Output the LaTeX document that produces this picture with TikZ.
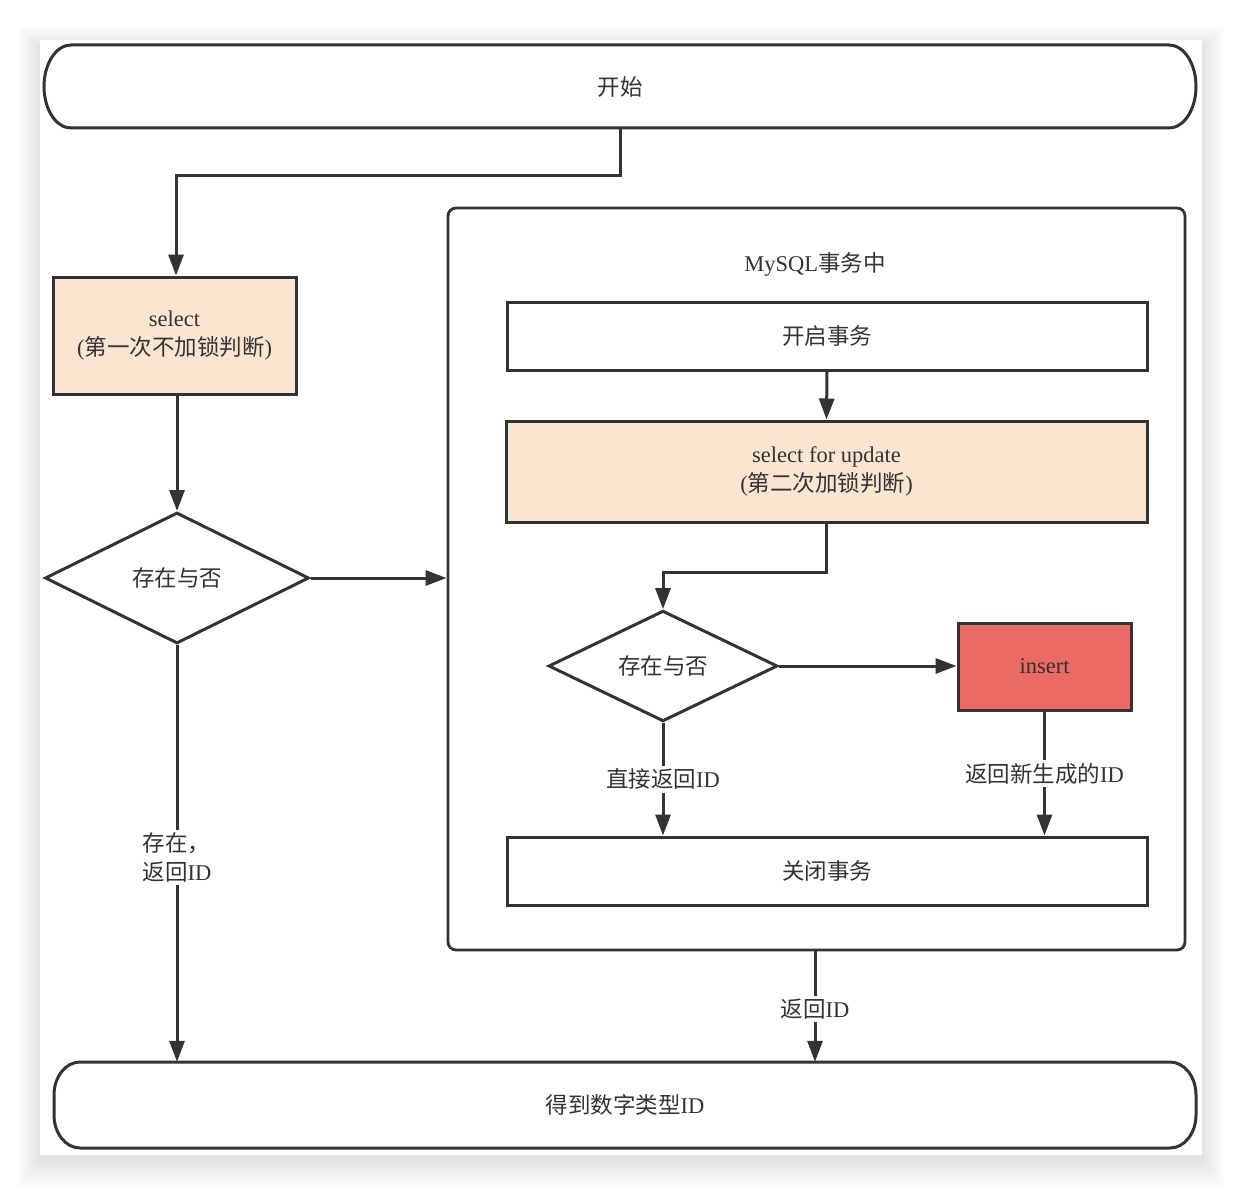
\documentclass[tikz,border=0pt]{standalone}
\usepackage{fontspec}
\setmainfont{Liberation Serif}
\newfontfamily\cjk{Noto Sans CJK SC}
\usetikzlibrary{arrows.meta,shapes.geometric,calc}
\definecolor{ink}{HTML}{333333}
\definecolor{peach}{HTML}{FAE5D0}
\definecolor{insertred}{HTML}{EA6B66}
\newcommand\C[1]{{\cjk #1}}
\begin{document}
\begin{tikzpicture}[x=1pt,y=-1pt,
  every node/.style={font=\fontsize{22.5}{28.5}\selectfont, text=ink},
  box/.style={draw=ink, line width=3pt, rectangle, inner sep=0pt, align=center},
  pill/.style={rectangle, inner sep=0pt},
  dec/.style={draw=ink, line width=3pt, diamond, inner sep=0pt},
  conn/.style={draw=ink, line width=3pt, -{Triangle[length=21pt,width=15pt]}},
  line/.style={draw=ink, line width=3pt},
  lbl/.style={fill=white, inner sep=3pt, align=left}]
\useasboundingbox (0,0) rectangle (1242,1196);
\fill[white] (0,0) rectangle (1242,1196);
% panel shadow
\foreach \i in {1,...,28}{
  \fill[black,opacity=0.0035] ({40-\i*0.8},{48-\i*0.8}) rectangle ({1202+\i*0.8},{1160+\i});
}
\fill[white] (40,40) rectangle (1202,1155);

% start terminal
\node[pill, minimum width=1152pt, minimum height=83pt] (start) at (620,86.5) {\C{开始}};
\draw[line] (71,45) -- (1169,45) arc[start angle=-90,end angle=90,x radius=27,y radius=41.5]
  -- (71,128) arc[start angle=90,end angle=270,x radius=27,y radius=41.5] -- cycle;

% end terminal
\node[pill, minimum width=1142pt, minimum height=86pt] (end) at (625,1105) {\C{得到数字类型}ID};
\draw[line] (80,1062) -- (1170,1062) arc[start angle=-90,end angle=0,x radius=26,y radius=33]
  -- (1196,1115) arc[start angle=0,end angle=90,x radius=26,y radius=33]
  -- (80,1148) arc[start angle=90,end angle=180,x radius=26,y radius=33]
  -- (54,1095) arc[start angle=180,end angle=270,x radius=26,y radius=33] -- cycle;

% left column
\node[box, fill=peach, minimum width=243pt, minimum height=117pt] (sel) at (174.5,335.5)
  {select\\(\C{第一次不加锁判断})};
\node[dec, minimum width=264pt, minimum height=131pt] (d1) at (177,578) {\C{存在与否}};

% container
\node[draw=ink, line width=2.8pt, rounded corners=8pt, minimum width=737pt, minimum height=742pt,
  inner sep=0pt] (tx) at (816.5,579) {};
\node (txl) at (815,264) {MySQL\C{事务中}};

\node[box, minimum width=640pt, minimum height=68pt] (open) at (827,336) {\C{开启事务}};
\node[box, fill=peach, minimum width=641pt, minimum height=101pt] (sfu) at (826.5,471.5)
  {select for update\\(\C{第二次加锁判断})};
\node[dec, minimum width=229pt, minimum height=92pt] (d2) at (663,666) {\C{存在与否}};
\node[box, fill=insertred, minimum width=173pt, minimum height=87pt] (ins) at (1044.5,666.5) {insert};
\node[box, minimum width=640pt, minimum height=68pt] (close) at (827,871) {\C{关闭事务}};

% connectors
\draw[conn] (start.south) |- (176,175) -- (sel.north -| 176,0);
\draw[conn] (sel.south -| d1.north) -- (d1.north);
\draw[conn] (d1.east) -- (d1.east -| tx.west);
\draw[conn] (d1.south) -- node[lbl, pos=0.51] {\C{存在，}\\\C{返回}ID} (d1.south |- end.north);
\draw[conn] (open.south) -- (sfu.north);
\draw[conn] (sfu.south) |- (663,572) -- (d2.north);
\draw[conn] (d2.east) -- (d2.east -| ins.west);
\draw[conn] (d2.south) -- node[lbl, pos=0.5] {\C{直接返回}ID} (d2.south |- close.north);
\draw[conn] (ins.south) -- node[lbl, pos=0.5] {\C{返回新生成的}ID} (ins.south |- close.north);
\draw[conn] (815,0 |- tx.south) -- node[lbl, pos=0.52] {\C{返回}ID} (815,0 |- end.north);
\end{tikzpicture}
\end{document}
